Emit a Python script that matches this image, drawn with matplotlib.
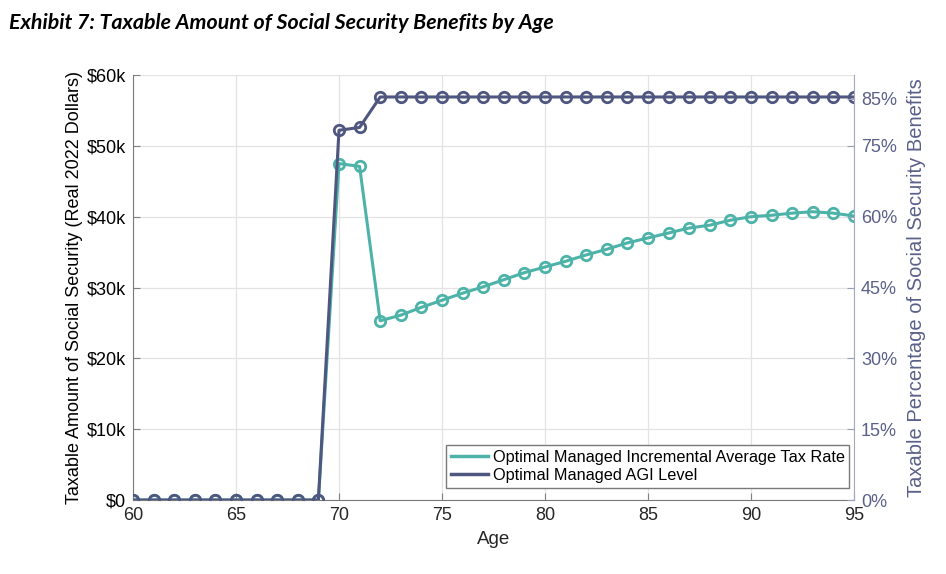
import matplotlib.pyplot as plt
from matplotlib.ticker import FuncFormatter, PercentFormatter
import numpy as np

plt.rcParams['font.family'] = ['Liberation Sans', 'DejaVu Sans']

# 年龄
ages = list(range(60, 96))
# 应税社保金额（千美元）
tax_rate_k = [0] * 10 + [47.5, 47.1, 25.3, 26.1, 27.2, 28.2, 29.2, 30.1, 31.1, 32.1,
                         32.9, 33.7, 34.6, 35.4, 36.3, 37.0, 37.7, 38.4, 38.8, 39.5,
                         40.0, 40.2, 40.5, 40.7, 40.5, 40.1]
agi_level_k = [0] * 10 + [52.2, 52.6] + [56.9] * 24
labels = ['Optimal Managed Incremental Average Tax Rate', 'Optimal Managed AGI Level']

teal = '#4db3a9'
slate = '#4f5680'
slate_txt = '#5a6088'

fig = plt.figure(figsize=(9.46, 5.74), dpi=100)
ax = fig.add_axes([0.1406, 0.1289, 0.7621, 0.7404])

tax = np.array(tax_rate_k) * 1000
agi = np.array(agi_level_k) * 1000
l1, = ax.plot(ages, tax, color=teal, lw=2.2, marker='o', ms=7.5, mfc='none', mew=2, zorder=3)
l2, = ax.plot(ages, agi, color=slate, lw=2.2, marker='o', ms=7.5, mfc='none', mew=2, zorder=4)

ax.set_xlim(60, 95)
ax.set_ylim(0, 60000)
ax.set_xticks(range(60, 96, 5))
ax.set_yticks(range(0, 60001, 10000))
ax.yaxis.set_major_formatter(FuncFormatter(lambda v, p: '$0' if v == 0 else f'${int(v/1000)}k'))
ax.grid(True, color='#e3e3e3', lw=0.9)
ax.set_axisbelow(True)
ax.tick_params(direction='in', length=5, labelsize=13, color='#808080', pad=5)
ax.tick_params(axis='x', labelcolor='#262626')
ax.set_xlabel('Age', fontsize=13.5, labelpad=5, color='#262626')
ax.set_ylabel('Taxable Amount of Social Security (Real 2022 Dollars)', fontsize=13, labelpad=3)
for s in ['left', 'bottom']:
    ax.spines[s].set_color('#7a7a7a')
ax.spines['top'].set_visible(False)
ax.spines['right'].set_visible(False)

ax2 = ax.twinx()
ax2.set_ylim(0, 0.9)
ax2.set_yticks([0, 0.15, 0.30, 0.45, 0.60, 0.75, 0.85])
ax2.yaxis.set_major_formatter(PercentFormatter(1.0, decimals=0))
ax2.tick_params(direction='in', length=5, labelsize=13, color='#9aa0b8', labelcolor=slate_txt, pad=5)
ax2.set_ylabel('Taxable Percentage of Social Security Benefits', fontsize=14.5, color=slate_txt, labelpad=7)
ax2.spines['right'].set_color('#a4a8be')
for s in ['top', 'left', 'bottom']:
    ax2.spines[s].set_visible(False)

leg = ax2.legend([l1, l2], labels, loc='lower right', bbox_to_anchor=(1.005, 0.01),
                 fontsize=11.7, handlelength=2.3, handletextpad=0.25, borderpad=0.3,
                 labelspacing=0.2, fancybox=False, framealpha=1, edgecolor='#7a7a7a')
for h in leg.get_lines():
    h.set_marker('')
    h.set_linewidth(2.5)

fig.text(0.01, 0.96, 'Exhibit 7: Taxable Amount of Social Security Benefits by Age',
         fontsize=15.4, fontweight='bold', fontstyle='italic', family=['Lato', 'DejaVu Sans'], va='center')

fig.savefig('out.png', dpi=100)
